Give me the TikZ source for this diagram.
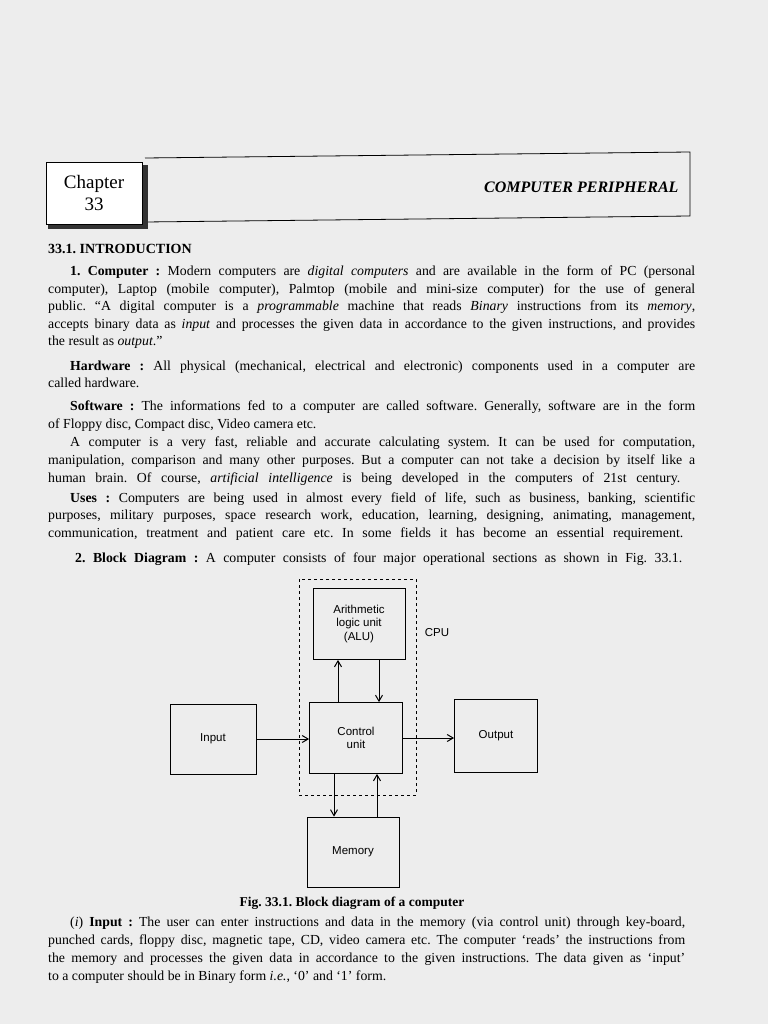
\documentclass[tikz,border=0pt]{standalone}
\usepackage{fontspec}
\setmainfont{Liberation Serif}
\setsansfont{Liberation Sans}
\usetikzlibrary{arrows.meta}
\begin{document}
\frenchspacing
\begin{tikzpicture}[x=1pt,y=-1pt,
  ln/.style={anchor=base west,inner sep=0pt,font=\fontsize{13.8}{15}\selectfont},
  blk/.style={draw,line width=0.8pt,font=\sffamily\fontsize{11.5}{13.5}\selectfont,align=center,inner sep=0pt},
  arr/.style={line width=0.8pt,-{Straight Barb[length=6pt,width=7pt,line width=1pt]}}]
\fill[black!7] (0,0) rectangle (768,1024);
\useasboundingbox (0,0) rectangle (768,1024);
% header
\draw[line width=0.8pt] (145,158) -- (690,152) -- (690,216) -- (145,222);
\fill[black!80] (48,223) rectangle (148,229);
\fill[black!80] (143,165) rectangle (148,229);
\node[draw,line width=0.8pt,fill=white,minimum width=96pt,minimum height=62pt,inner sep=0pt,
  align=center,font=\fontsize{19}{22}\selectfont] (chap) at (94,193) {Chapter\\33};
\node[font=\bfseries\itshape\fontsize{16}{18}\selectfont,anchor=east] (title) at (682,187) {COMPUTER PERIPHERAL};
% text
\node[ln,font=\bfseries\fontsize{14}{16}\selectfont] (h1) at (48,253) {33.1. INTRODUCTION};
\node[ln] (p1) at (70,275) {\makebox[625pt][s]{\textbf{1. Computer :} Modern computers are \textit{digital computers} and are available in the form of PC (personal}};
\node[ln] (p2) at (48,293) {\makebox[647pt][s]{computer), Laptop (mobile computer), Palmtop (mobile and mini-size computer) for the use of general}};
\node[ln] (p3) at (48,310) {\makebox[647pt][s]{public. ``A digital computer is a \textit{programmable} machine that reads \textit{Binary} instructions from its \textit{memory},}};
\node[ln] (p4) at (48,328) {\makebox[647pt][s]{accepts binary data as \textit{input} and processes the given data in accordance to the given instructions, and provides}};
\node[ln] (p5) at (48,345) {the result as \textit{output}.''};
\node[ln] (q1) at (70,370) {\makebox[625pt][s]{\textbf{Hardware :} All physical (mechanical, electrical and electronic) components used in a computer are}};
\node[ln] (q2) at (48,387) {called hardware.};
\node[ln] (r1) at (70,410) {\makebox[625pt][s]{\textbf{Software :} The informations fed to a computer are called software. Generally, software are in the form}};
\node[ln] (r2) at (48,428) {of Floppy disc, Compact disc, Video camera etc.};
\node[ln] (s1) at (70,446) {\makebox[625pt][s]{A computer is a very fast, reliable and accurate calculating system. It can be used for computation,}};
\node[ln] (s2) at (48,464) {\makebox[647pt][s]{manipulation, comparison and many other purposes. But a computer can not take a decision by itself like a}};
\node[ln] (s3) at (48,482) {\makebox[632pt][s]{human brain. Of course, \textit{artificial intelligence} is being developed in the computers of 21st century.}};
\node[ln] (u1) at (70,502) {\makebox[625pt][s]{\textbf{Uses :} Computers are being used in almost every field of life, such as business, banking, scientific}};
\node[ln] (u2) at (48,519) {\makebox[647pt][s]{purposes, military purposes, space research work, education, learning, designing, animating, management,}};
\node[ln] (u3) at (48,537) {\makebox[635pt][s]{communication, treatment and patient care etc. In some fields it has become an essential requirement.}};
\node[ln] (b1) at (75,562) {\makebox[607pt][s]{\textbf{2. Block Diagram :} A computer consists of four major operational sections as shown in Fig. 33.1.}};
% diagram
\draw[dashed,line width=0.6pt] (299,579) rectangle (416,795);
\node[blk,minimum width=92pt,minimum height=71pt] (alu) at (359,624) {Arithmetic\\logic unit\\(ALU)};
\node[font=\sffamily\fontsize{11.5}{13.5}\selectfont] (cpu) at (437,633) {CPU};
\node[blk,minimum width=93pt,minimum height=71pt] (cu) at (356,738) {Control\\unit};
\node[blk,minimum width=86pt,minimum height=70pt] (in) at (213,739) {Input};
\node[blk,minimum width=83pt,minimum height=73pt] (out) at (496,736) {Output};
\node[blk,minimum width=92pt,minimum height=70pt] (mem) at (353,852) {Memory};
\draw[arr] (cu.north -| 338,0) -- (alu.south -| 338,0);
\draw[arr] (alu.south -| 379,0) -- (cu.north -| 379,0);
\draw[arr] (cu.south -| 334,0) -- (mem.north -| 334,0);
\draw[arr] (mem.north -| 377,0) -- (cu.south -| 377,0);
\draw[arr] (in.east) -- (in.east -| cu.west);
\draw[arr] (cu.east) -- (cu.east -| out.west);
\node[font=\bfseries\fontsize{13.5}{15}\selectfont] (cap) at (352,903) {Fig. 33.1. Block diagram of a computer};
\node[ln] (i1) at (70,926) {\makebox[615pt][s]{(\textit{i}) \textbf{Input :} The user can enter instructions and data in the memory (via control unit) through key-board,}};
\node[ln] (i2) at (48,944) {\makebox[637pt][s]{punched cards, floppy disc, magnetic tape, CD, video camera etc. The computer `reads' the instructions from}};
\node[ln] (i3) at (48,962) {\makebox[637pt][s]{the memory and processes the given data in accordance to the given instructions. The data given as `input'}};
\node[ln] (i4) at (48,980) {to a computer should be in Binary form \textit{i.e.}, `0' and `1' form.};
\end{tikzpicture}
\end{document}
